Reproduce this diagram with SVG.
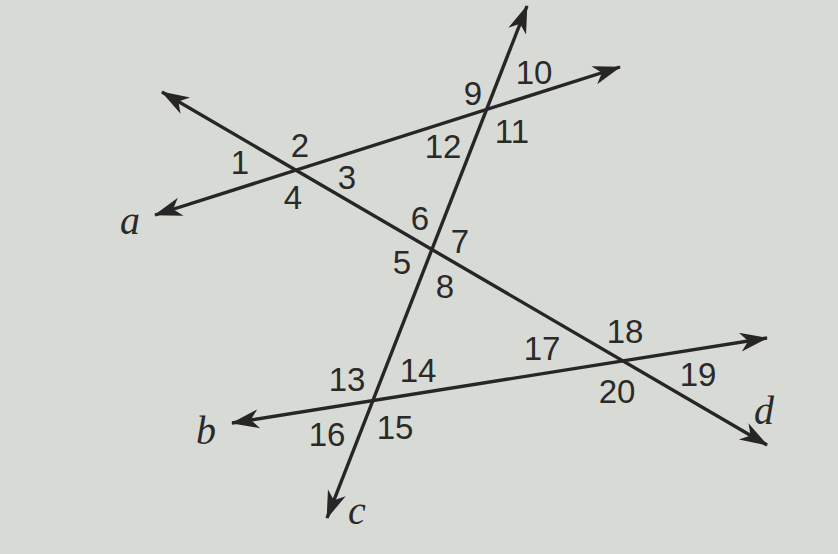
<svg xmlns="http://www.w3.org/2000/svg" width="838" height="554" viewBox="0 0 838 554">
<style>
.ln{stroke:#262626;stroke-width:3.4;fill:none;marker-start:url(#ah);marker-end:url(#ah)}
.n{font-family:"Liberation Sans",Arial,sans-serif;font-size:33px;fill:#2a2a2a;text-anchor:middle;dominant-baseline:central}
.v{font-family:"Liberation Serif","Times New Roman",serif;font-style:italic;font-size:40px;fill:#2a2a2a;text-anchor:middle;dominant-baseline:central}
</style>
<defs>
<marker id="ah" markerUnits="userSpaceOnUse" viewBox="-30 -11 32 22" markerWidth="32" markerHeight="22" refX="0" refY="0" orient="auto-start-reverse">
<path d="M1,0 L-27,-9.5 L-19,0 L-27,9.5 Z" fill="#262626"/>
</marker>
</defs>
<rect width="838" height="554" fill="#d8dbd5"/>
<g id="lines">
<line id="line-a" class="ln" x1="155" y1="215" x2="620" y2="67"/>
<line id="line-d" class="ln" x1="162" y1="92" x2="767" y2="445"/>
<line id="line-c" class="ln" x1="527" y1="6" x2="327" y2="518"/>
<line id="line-b" class="ln" x1="232" y1="423" x2="767" y2="338"/>
</g>
<g id="angle-labels">
<text class="n" x="240" y="162">1</text>
<text class="n" x="300" y="145">2</text>
<text class="n" x="347" y="177">3</text>
<text class="n" x="293" y="197">4</text>
<text class="n" x="402" y="262">5</text>
<text class="n" x="420" y="218">6</text>
<text class="n" x="460" y="241">7</text>
<text class="n" x="445" y="286">8</text>
<text class="n" x="473" y="93">9</text>
<text class="n" x="534" y="72">10</text>
<text class="n" x="512" y="131">11</text>
<text class="n" x="443" y="146">12</text>
<text class="n" x="347" y="379">13</text>
<text class="n" x="418" y="370">14</text>
<text class="n" x="395" y="427">15</text>
<text class="n" x="327" y="434">16</text>
<text class="n" x="542" y="348">17</text>
<text class="n" x="625" y="331">18</text>
<text class="n" x="698" y="374">19</text>
<text class="n" x="617" y="391">20</text>
</g>
<g id="line-labels">
<text class="v" x="130" y="220">a</text>
<text class="v" x="206" y="430">b</text>
<text class="v" x="357" y="510">c</text>
<text class="v" x="764" y="410">d</text>
</g>
</svg>
